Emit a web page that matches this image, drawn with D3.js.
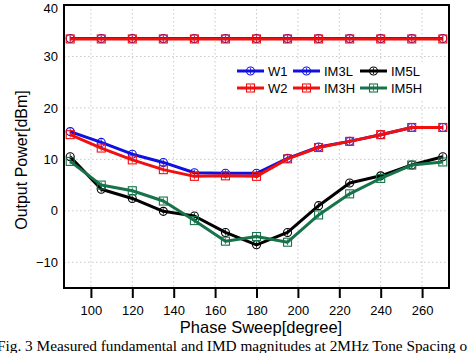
<!DOCTYPE html>
<html><head><meta charset="utf-8">
<script src="https://cdn.jsdelivr.net/npm/d3@7"></script>
<style>body{margin:0;background:#fff;}svg{display:block;}</style>
</head><body>
<script>
const phase = [90,105,120,135,150,165,180,195,210,225,240,255,270];
const W1   = [33.5,33.5,33.5,33.5,33.5,33.5,33.5,33.5,33.5,33.5,33.5,33.5,33.5];
const W2   = [33.4,33.4,33.4,33.4,33.4,33.4,33.4,33.4,33.4,33.4,33.4,33.4,33.4];
const IM3L = [15.4,13.3,11.0,9.4,7.4,7.3,7.3,10.2,12.4,13.5,14.8,16.2,16.2];
const IM3H = [14.8,12.2,9.9,8.0,6.7,6.8,6.7,10.1,12.3,13.5,14.8,16.2,16.2];
const IM5L = [10.5,4.2,2.4,-0.1,-1.0,-4.2,-6.6,-4.2,1.0,5.4,6.8,8.9,10.5];
const IM5H = [9.6,5.0,3.9,1.9,-1.9,-5.9,-5.0,-6.1,-0.8,3.3,6.3,8.9,9.5];
const xTicks = [100,120,140,160,180,200,220,240,260];
const yTicks = [-10,0,10,20,30,40];

const series = [
  {name:"W1", vals:W1, color:"#1010e0", shape:"circle"},
  {name:"W2", vals:W2, color:"#f01010", shape:"square"},
  {name:"IM3L", vals:IM3L, color:"#1010e0", shape:"circle"},
  {name:"IM3H", vals:IM3H, color:"#f01010", shape:"square"},
  {name:"IM5L", vals:IM5L, color:"#000000", shape:"circle"},
  {name:"IM5H", vals:IM5H, color:"#17734a", shape:"square"}
];

const W = 474, H = 353;
const svg = d3.select("body").append("svg").attr("width", W).attr("height", H);
const L = 64, R = 449, T = 5, B = 288;
const x = d3.scaleLinear().domain([87,273]).range([L,R]);
const y = d3.scaleLinear().domain([-15,40]).range([B,T]);

// grid
const grid = svg.append("g").attr("stroke","#c8c8c8").attr("stroke-width",1).attr("stroke-dasharray","1.5,2.5");
grid.selectAll("line.v").data(xTicks).join("line")
  .attr("x1",d=>x(d)).attr("x2",d=>x(d)).attr("y1",T).attr("y2",B);
grid.selectAll("line.h").data(yTicks.filter(d=>d<40)).join("line")
  .attr("x1",L).attr("x2",R).attr("y1",d=>y(d)).attr("y2",d=>y(d));

// legend background
svg.append("rect").attr("x",228).attr("y",62).attr("width",210).attr("height",38).attr("fill","#fff");

// axes
const xAxis = d3.axisBottom(x).tickValues(xTicks).tickSize(10).tickPadding(8);
const gx = svg.append("g").attr("transform",`translate(0,${B})`).call(xAxis);
gx.select(".domain").remove();
gx.selectAll(".tick line").attr("stroke","#000").attr("stroke-width",2);
gx.selectAll("text").attr("font-family","Liberation Sans, Arial, sans-serif").attr("font-size",13).attr("fill","#000");

const yAxis = d3.axisLeft(y).tickValues(yTicks).tickSize(0).tickPadding(6);
const gy = svg.append("g").attr("transform",`translate(${L},0)`).call(yAxis);
gy.select(".domain").remove();
gy.selectAll("text").attr("font-family","Liberation Sans, Arial, sans-serif").attr("font-size",13).attr("fill","#000");
gy.selectAll(".tick").filter(d=>d===40).select("text").attr("dy","0.6em");

// data lines
const line = d3.line().x((d,i)=>x(phase[i])).y(d=>y(d));
function marker(g, shape, color, cx, cy){
  if(shape==="circle"){
    g.append("circle").attr("cx",cx).attr("cy",cy).attr("r",4).attr("fill","none").attr("stroke",color).attr("stroke-width",1.1);
  } else {
    g.append("rect").attr("x",cx-4).attr("y",cy-4).attr("width",8).attr("height",8).attr("fill","none").attr("stroke",color).attr("stroke-width",1.1);
  }
  g.append("line").attr("x1",cx).attr("x2",cx).attr("y1",cy-3).attr("y2",cy+3).attr("stroke",color).attr("stroke-width",0.8);
}
series.forEach(s=>{
  const g = svg.append("g");
  g.append("path").attr("d",line(s.vals)).attr("fill","none").attr("stroke",s.color).attr("stroke-width",3).attr("stroke-linejoin","round");
  s.vals.forEach((v,i)=>marker(g, s.shape, s.color, x(phase[i]), y(v)));
});

// frame
svg.append("rect").attr("x",L).attr("y",T).attr("width",R-L).attr("height",B-T)
  .attr("fill","none").attr("stroke","#000").attr("stroke-width",2);

// legend
const legCols = [237, 293, 360];
const legRows = [71, 88];
const legOrder = [["W1","IM3L","IM5L"],["W2","IM3H","IM5H"]];
const lg = svg.append("g");
legOrder.forEach((row,ri)=>row.forEach((nm,ci)=>{
  const s = series.find(d=>d.name===nm);
  const x0 = legCols[ci], yy = legRows[ri];
  lg.append("line").attr("x1",x0).attr("x2",x0+27).attr("y1",yy).attr("y2",yy).attr("stroke",s.color).attr("stroke-width",3);
  marker(lg, s.shape, s.color, x0+13.5, yy);
  lg.append("text").attr("x",x0+31).attr("y",yy).attr("dy","0.36em")
    .attr("font-family","Liberation Sans, Arial, sans-serif").attr("font-size",13).text(nm);
}));

// axis titles
svg.append("text").attr("x",(177+345)/2).attr("y",333).attr("text-anchor","middle")
  .attr("font-family","Liberation Sans, Arial, sans-serif").attr("font-size",16.5).text("Phase Sweep[degree]");
svg.append("text").attr("transform","translate(27,160) rotate(-90)").attr("text-anchor","middle")
  .attr("font-family","Liberation Sans, Arial, sans-serif").attr("font-size",16).text("Output Power[dBm]");

// caption
svg.append("text").attr("x",-3).attr("y",351)
  .attr("font-family","Liberation Serif, Times New Roman, serif").attr("font-size",15.3)
  .text("Fig. 3 Measured fundamental and IMD magnitudes at 2MHz Tone Spacing o");
</script>
</body></html>
